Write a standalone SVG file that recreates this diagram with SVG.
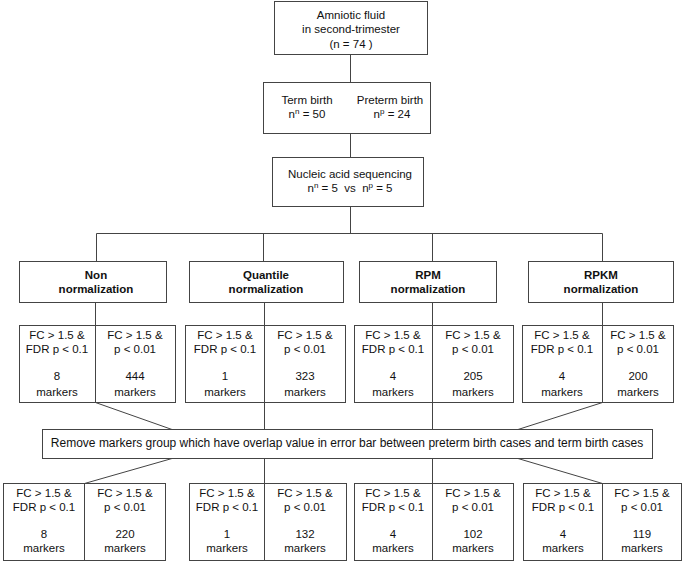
<svg xmlns="http://www.w3.org/2000/svg" width="685" height="564" viewBox="0 0 685 564">
<style>
text{font-family:"Liberation Sans",Arial,sans-serif;font-size:11.5px;fill:#111;text-anchor:middle}
.b{font-weight:bold}
rect{fill:#fff;stroke:#444;stroke-width:1}
#connectors line{stroke:#444;stroke-width:1}
.s{font-size:8px}
</style>
<rect x="0" y="0" width="685" height="564" style="stroke:none"/>
<g id="connectors">
<line x1="350.5" y1="55" x2="350.5" y2="82"/>
<line x1="350.5" y1="133" x2="350.5" y2="157"/>
<line x1="350.5" y1="206" x2="350.5" y2="233.5"/>
<line x1="96.5" y1="233.5" x2="602.5" y2="233.5"/>
<line x1="96.5" y1="233.5" x2="96.5" y2="261"/>
<line x1="263.5" y1="233.5" x2="263.5" y2="261"/>
<line x1="432.5" y1="233.5" x2="432.5" y2="261"/>
<line x1="602.5" y1="233.5" x2="602.5" y2="261"/>
<line x1="95.5" y1="302" x2="95.5" y2="325"/>
<line x1="264.5" y1="302" x2="264.5" y2="325"/>
<line x1="432.5" y1="302" x2="432.5" y2="325"/>
<line x1="602.5" y1="302" x2="602.5" y2="325"/>
<line x1="95.5" y1="402.5" x2="172" y2="429.5"/>
<line x1="264.5" y1="402.5" x2="264.5" y2="429.5"/>
<line x1="432.5" y1="402.5" x2="432.5" y2="429.5"/>
<line x1="602.5" y1="402.5" x2="518" y2="429.5"/>
<line x1="172" y1="458.5" x2="84.5" y2="483.5"/>
<line x1="264.5" y1="458.5" x2="264.5" y2="483.5"/>
<line x1="432.5" y1="458.5" x2="432.5" y2="483.5"/>
<line x1="518" y1="458.5" x2="602.5" y2="483.5"/>
</g>
<g id="top">
<rect x="274.5" y="1.5" width="153" height="53"/>
<text x="351" y="19">Amniotic fluid</text>
<text x="351" y="33">in second-trimester</text>
<text x="351" y="48">(n = 74 )</text>
</g>
<g id="birth">
<rect x="263.5" y="82.5" width="167" height="51"/>
<text x="307" y="104">Term birth</text>
<text x="390" y="104">Preterm birth</text>
<text x="307" y="118">n<tspan class="s" dy="-4">n</tspan><tspan dy="4"> = 50</tspan></text>
<text x="392" y="118">n<tspan class="s" dy="-4">p</tspan><tspan dy="4"> = 24</tspan></text>
</g>
<g id="seq">
<rect x="272.5" y="157.5" width="151" height="49"/>
<text x="350" y="178">Nucleic acid sequencing</text>
<text x="350" y="192" xml:space="preserve">n<tspan class="s" dy="-4">n</tspan><tspan dy="4"> = 5  vs  n</tspan><tspan class="s" dy="-4">p</tspan><tspan dy="4"> = 5</tspan></text>
</g>
<g id="norm-non">
<rect x="19.5" y="261.5" width="147" height="41"/>
<text class="b" x="96" y="279">Non</text>
<text class="b" x="96" y="293">normalization</text>
</g>
<g id="norm-quantile">
<rect x="189.5" y="261.5" width="154" height="41"/>
<text class="b" x="266" y="279">Quantile</text>
<text class="b" x="266" y="293">normalization</text>
</g>
<g id="norm-rpm">
<rect x="359.5" y="261.5" width="137" height="41"/>
<text class="b" x="428" y="279">RPM</text>
<text class="b" x="428" y="293">normalization</text>
</g>
<g id="norm-rpkm">
<rect x="528.5" y="261.5" width="145" height="41"/>
<text class="b" x="601" y="279">RPKM</text>
<text class="b" x="601" y="293">normalization</text>
</g>
<g id="r1-non">
<rect x="19.5" y="325.5" width="156" height="77"/>
<line x1="95.5" y1="325.5" x2="95.5" y2="402.5" stroke="#444"/>
<text x="57" y="339">FC &gt; 1.5 &amp;</text><text x="57" y="353">FDR p &lt; 0.1</text><text x="57" y="380">8</text><text x="57" y="396">markers</text>
<text x="135" y="339">FC &gt; 1.5 &amp;</text><text x="135" y="353">p &lt; 0.01</text><text x="135" y="380">444</text><text x="135" y="396">markers</text>
</g>
<g id="r1-quantile">
<rect x="185.5" y="325.5" width="160" height="77"/>
<line x1="264.5" y1="325.5" x2="264.5" y2="402.5" stroke="#444"/>
<text x="225" y="339">FC &gt; 1.5 &amp;</text><text x="225" y="353">FDR p &lt; 0.1</text><text x="225" y="380">1</text><text x="225" y="396">markers</text>
<text x="305" y="339">FC &gt; 1.5 &amp;</text><text x="305" y="353">p &lt; 0.01</text><text x="305" y="380">323</text><text x="305" y="396">markers</text>
</g>
<g id="r1-rpm">
<rect x="354.5" y="325.5" width="159" height="77"/>
<line x1="432.5" y1="325.5" x2="432.5" y2="402.5" stroke="#444"/>
<text x="393" y="339">FC &gt; 1.5 &amp;</text><text x="393" y="353">FDR p &lt; 0.1</text><text x="393" y="380">4</text><text x="393" y="396">markers</text>
<text x="473" y="339">FC &gt; 1.5 &amp;</text><text x="473" y="353">p &lt; 0.01</text><text x="473" y="380">205</text><text x="473" y="396">markers</text>
</g>
<g id="r1-rpkm">
<rect x="522.5" y="325.5" width="151" height="77"/>
<line x1="602.5" y1="325.5" x2="602.5" y2="402.5" stroke="#444"/>
<text x="562" y="339">FC &gt; 1.5 &amp;</text><text x="562" y="353">FDR p &lt; 0.1</text><text x="562" y="380">4</text><text x="562" y="396">markers</text>
<text x="638" y="339">FC &gt; 1.5 &amp;</text><text x="638" y="353">p &lt; 0.01</text><text x="638" y="380">200</text><text x="638" y="396">markers</text>
</g>
<g id="remove">
<rect x="42.5" y="429.5" width="610" height="29"/>
<text x="347" y="447" style="font-size:12px">Remove markers group which have overlap value in error bar between preterm birth cases and term birth cases</text>
</g>
<g id="r2-non">
<rect x="3.5" y="483.5" width="162" height="77"/>
<line x1="84.5" y1="483.5" x2="84.5" y2="560.5" stroke="#444"/>
<text x="44" y="497">FC &gt; 1.5 &amp;</text><text x="44" y="511">FDR p &lt; 0.1</text><text x="44" y="538">8</text><text x="44" y="552">markers</text>
<text x="125" y="497">FC &gt; 1.5 &amp;</text><text x="125" y="511">p &lt; 0.01</text><text x="125" y="538">220</text><text x="125" y="552">markers</text>
</g>
<g id="r2-quantile">
<rect x="189.5" y="483.5" width="157" height="77"/>
<line x1="264.5" y1="483.5" x2="264.5" y2="560.5" stroke="#444"/>
<text x="227" y="497">FC &gt; 1.5 &amp;</text><text x="227" y="511">FDR p &lt; 0.1</text><text x="227" y="538">1</text><text x="227" y="552">markers</text>
<text x="305" y="497">FC &gt; 1.5 &amp;</text><text x="305" y="511">p &lt; 0.01</text><text x="305" y="538">132</text><text x="305" y="552">markers</text>
</g>
<g id="r2-rpm">
<rect x="354.5" y="483.5" width="159" height="77"/>
<line x1="432.5" y1="483.5" x2="432.5" y2="560.5" stroke="#444"/>
<text x="393" y="497">FC &gt; 1.5 &amp;</text><text x="393" y="511">FDR p &lt; 0.1</text><text x="393" y="538">4</text><text x="393" y="552">markers</text>
<text x="473" y="497">FC &gt; 1.5 &amp;</text><text x="473" y="511">p &lt; 0.01</text><text x="473" y="538">102</text><text x="473" y="552">markers</text>
</g>
<g id="r2-rpkm">
<rect x="523.5" y="483.5" width="158" height="77"/>
<line x1="602.5" y1="483.5" x2="602.5" y2="560.5" stroke="#444"/>
<text x="563" y="497">FC &gt; 1.5 &amp;</text><text x="563" y="511">FDR p &lt; 0.1</text><text x="563" y="538">4</text><text x="563" y="552">markers</text>
<text x="642" y="497">FC &gt; 1.5 &amp;</text><text x="642" y="511">p &lt; 0.01</text><text x="642" y="538">119</text><text x="642" y="552">markers</text>
</g>
</svg>
